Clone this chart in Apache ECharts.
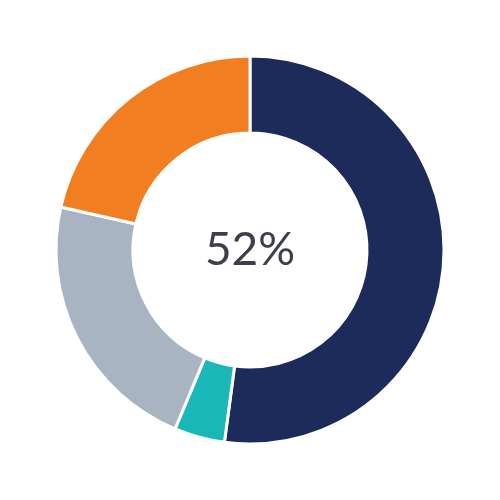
<!DOCTYPE html>
<html>
<head>
<meta charset="utf-8">
<script src="https://cdn.jsdelivr.net/npm/echarts@6/dist/echarts.min.js"></script>
<style>html,body{margin:0;padding:0;background:#fff}#c{width:500px;height:500px}</style>
</head>
<body>
<div id="c"></div>
<script>
const categories = ['Navy', 'Teal', 'Gray', 'Orange'];
const values = [52, 4.2, 22.2, 21.4];
const colors = ['#1c2b59', '#1ab7b8', '#a9b4c3', '#f27e22'];
const centerLabel = '52%';

const chart = echarts.init(document.getElementById('c'), null, {renderer: 'canvas'});
chart.setOption({
  animation: false,
  graphic: [{
    type: 'text',
    left: 'center',
    top: 'middle',
    style: {
      text: centerLabel,
      fontSize: 46,
      fontFamily: 'Lato',
      fill: '#3b404b'
    }
  }],
  series: [{
    type: 'pie',
    center: [250, 250],
    radius: [117, 194],
    startAngle: 90,
    clockwise: true,
    label: {show: false},
    labelLine: {show: false},
    itemStyle: {borderColor: '#ffffff', borderWidth: 3},
    data: categories.map((c, i) => ({name: c, value: values[i], itemStyle: {color: colors[i]}}))
  }]
});
</script>
</body>
</html>
